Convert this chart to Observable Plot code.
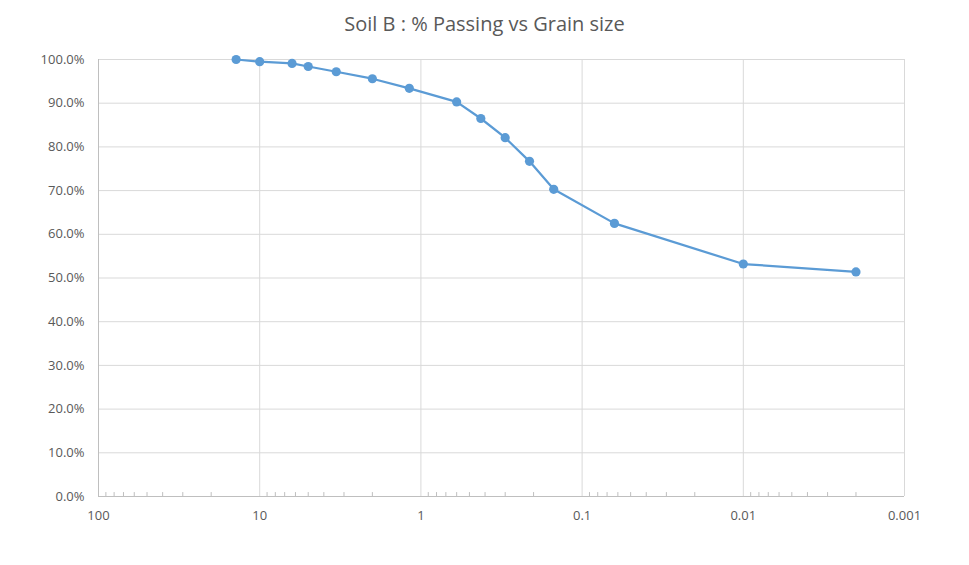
<!DOCTYPE html>
<html>
<head>
<meta charset="utf-8">
<script src="https://cdn.jsdelivr.net/npm/d3@7"></script>
<script src="https://cdn.jsdelivr.net/npm/@observablehq/plot@0.6"></script>
<style>
  body { margin: 0; background: #fff; font-family: "Open Sans", sans-serif; }
  #title { height: 40px; line-height: 48px; text-align: center; font-size: 20px; color: #595959; width: 969px; }
  svg { display: block; }
</style>
</head>
<body>
<div id="title">Soil B : % Passing vs Grain size</div>
<div id="chart"></div>
<script>
// Sieve / hydrometer results: grain size (mm) and percent passing
const grainSize = [14, 10, 6.3, 5, 3.35, 2, 1.18, 0.6, 0.425, 0.3, 0.212, 0.15, 0.063, 0.01, 0.002];
const passing = [100.0, 99.5, 99.1, 98.4, 97.2, 95.6, 93.4, 90.3, 86.5, 82.1, 76.7, 70.3, 62.5, 53.2, 51.4];

const xMajorTicks = [100, 10, 1, 0.1, 0.01, 0.001];
const xTickLabels = ["100", "10", "1", "0.1", "0.01", "0.001"];
const yTicks = [0, 10, 20, 30, 40, 50, 60, 70, 80, 90, 100];

const data = grainSize.map((d, i) => ({size: d, pct: passing[i]}));

// minor ticks at 2..9 within each decade
const xMinorTicks = [];
for (const dec of [0.001, 0.01, 0.1, 1, 10]) {
  for (let k = 2; k <= 9; k++) xMinorTicks.push(+(k * dec).toPrecision(3));
}

const labelOf = new Map(xMajorTicks.map((v, i) => [v, xTickLabels[i]]));

const chart = Plot.plot({
  width: 969,
  height: 485,
  marginTop: 19,
  marginBottom: 29,
  marginLeft: 98,
  marginRight: 65,
  style: {fontFamily: "'Open Sans', sans-serif", fontSize: "13px", color: "#595959", background: "#fff"},
  x: {type: "log", domain: [100, 0.001], ticks: xMajorTicks, tickFormat: d => labelOf.get(d), tickSize: 0, tickPadding: 14, label: null},
  y: {domain: [0, 100], ticks: yTicks, tickFormat: d => d.toFixed(1) + "%", tickSize: 0, tickPadding: 14, label: null},
  marks: [
    Plot.gridY(yTicks, {stroke: "#d9d9d9", strokeOpacity: 1, strokeWidth: 1}),
    Plot.gridX(xMajorTicks, {stroke: "#d9d9d9", strokeOpacity: 1, strokeWidth: 1}),
    Plot.ruleY([0], {stroke: "#bfbfbf", strokeWidth: 1}),
    Plot.ruleX([100], {stroke: "#bfbfbf", strokeWidth: 1}),
    Plot.ruleX(xMinorTicks, {y1: 0, y2: 0.9, stroke: "#bfbfbf", strokeWidth: 1}),
    Plot.line(data, {x: "size", y: "pct", stroke: "#5b9bd5", strokeWidth: 2.25}),
    Plot.dot(data, {x: "size", y: "pct", r: 4.6, fill: "#5b9bd5", stroke: "none"})
  ]
});
document.getElementById("chart").append(chart);
</script>
</body>
</html>
